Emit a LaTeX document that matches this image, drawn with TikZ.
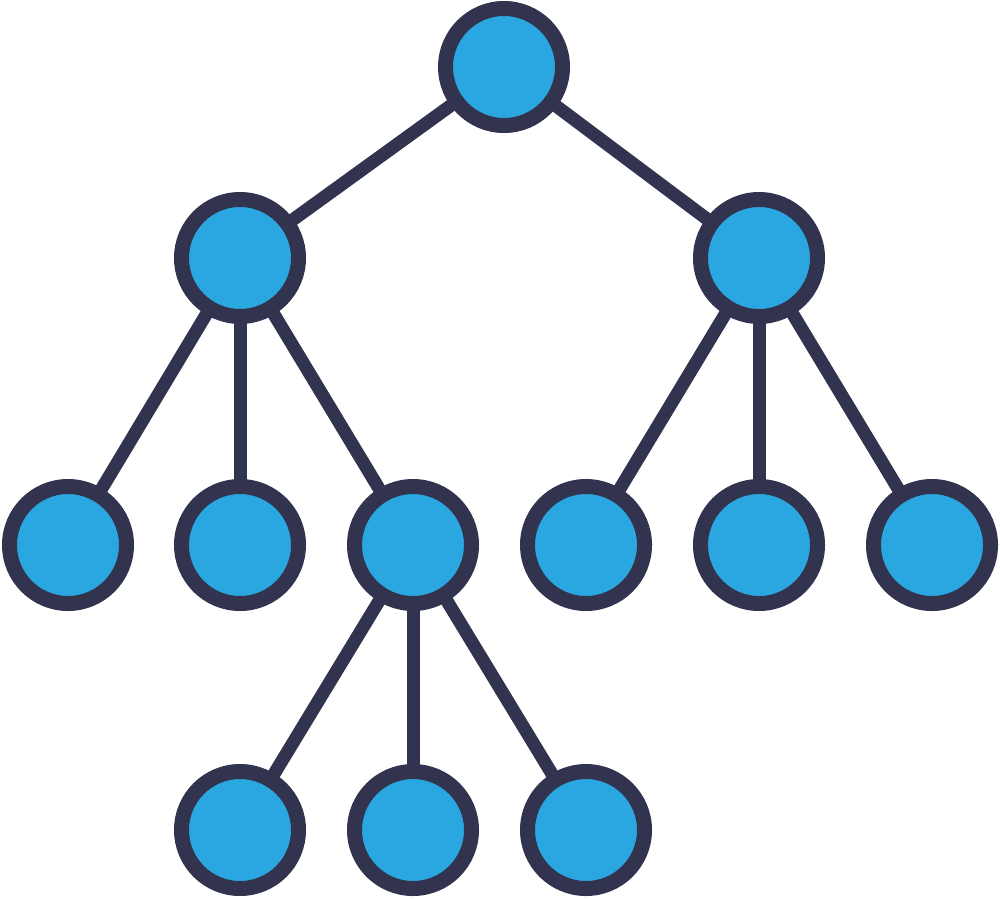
\documentclass[tikz,border=0pt]{standalone}
\usetikzlibrary{backgrounds}
\definecolor{nodefill}{HTML}{2AA7E1}
\definecolor{navy}{HTML}{32344F}
\begin{document}
\begin{tikzpicture}[
  treenode/.style={circle, draw=navy, fill=nodefill, line width=0.15cm, minimum size=1.17cm, inner sep=0pt},
  edge/.style={draw=navy, line width=0.13cm}
]
\useasboundingbox (0,0) rectangle (10,-8.98);
\node[treenode] (r) at (5.04,-0.67) {};
\node[treenode] (a) at (2.40,-2.58) {};
\node[treenode] (b) at (7.59,-2.58) {};
\node[treenode] (a1) at (0.68,-5.45) {};
\node[treenode] (a2) at (2.40,-5.45) {};
\node[treenode] (a3) at (4.13,-5.45) {};
\node[treenode] (b1) at (5.86,-5.45) {};
\node[treenode] (b2) at (7.59,-5.45) {};
\node[treenode] (b3) at (9.32,-5.45) {};
\node[treenode] (c1) at (2.40,-8.30) {};
\node[treenode] (c2) at (4.13,-8.30) {};
\node[treenode] (c3) at (5.86,-8.30) {};
\begin{scope}[on background layer]
\foreach \p/\c in {r/a, r/b, a/a1, a/a2, a/a3, b/b1, b/b2, b/b3, a3/c1, a3/c2, a3/c3}
  \draw[edge] (\p.center) -- (\c.center);
\end{scope}
\end{tikzpicture}
\end{document}
